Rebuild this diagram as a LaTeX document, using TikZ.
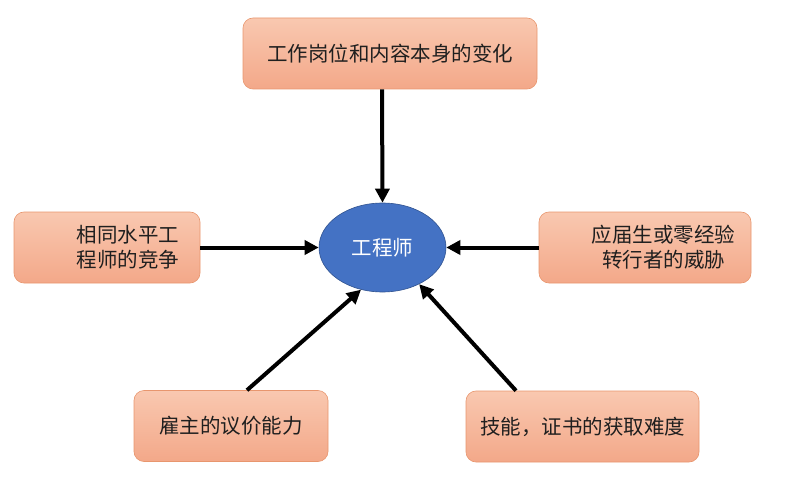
\documentclass[tikz,border=0pt]{standalone}
\usepackage{fontspec}
\setmainfont{Noto Sans CJK SC}
\usepackage{xcolor}
\usetikzlibrary{arrows.meta,positioning,calc,shapes.geometric}

\definecolor{peachtop}{RGB}{249,200,176}
\definecolor{peachbot}{RGB}{243,168,137}
\definecolor{peachline}{RGB}{232,150,110}
\definecolor{engfill}{RGB}{68,114,196}
\definecolor{engline}{RGB}{47,82,143}

\begin{document}
\begin{tikzpicture}[x=1pt,y=-1pt,>={Triangle[length=14pt,width=14pt]},
 box/.style={draw=peachline,line width=0.6pt,top color=peachtop,bottom color=peachbot,rounded corners=10pt,minimum height=71pt,inner ysep=0pt,text=black!88,font=\fontsize{20.5}{25}\selectfont},
 eng/.style={ellipse,draw=engline,line width=0.6pt,fill=engfill,minimum width=127pt,minimum height=89pt,inner sep=0pt,text=white,font=\fontsize{20.5}{25}\selectfont},
 arr/.style={->,line width=4pt,black}]
 \useasboundingbox (0,0) rectangle (793,500);
 \node[eng] (e) at (382.5,247.5) {工程师};
 \node[box,minimum width=294pt] (t) at (390,53.5) {工作岗位和内容本身的变化};
 \node[box,text width=144pt,inner xsep=21pt,align=right] (l) at (107,247.5) {相同水平工\\程师的竞争};
 \node[box,inner xsep=15pt] (r) at (645,247.5) {\hspace*{37pt}\parbox[c]{145pt}{\centering 应届生或零经验\\转行者的威胁}};
 \node[box,minimum width=194pt] (bl) at (231,426) {雇主的议价能力};
 \node[box,minimum width=233pt] (br) at (582.5,426.5) {技能，证书的获取难度};
 \draw[arr] ([xshift=-8pt]t.south) -- (e.north);
 \draw[arr] (l.east) -- (e.west);
 \draw[arr] (r.west) -- (e.east);
 \draw[arr] ([xshift=16pt]bl.north) -- (e.243);
 \draw[arr] ([xshift=-66.5pt]br.north) -- (e.315);
\end{tikzpicture}
\end{document}
